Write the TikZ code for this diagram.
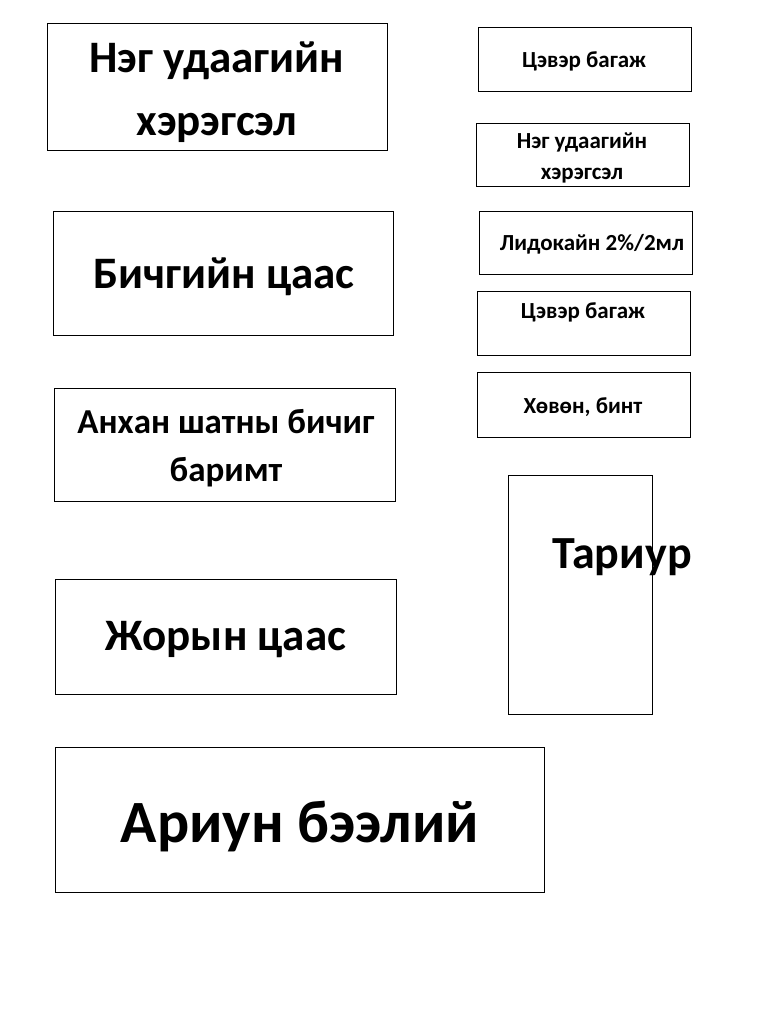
\documentclass[tikz,border=0pt]{standalone}
\usepackage{fontspec}
\setmainfont{Carlito}
\begin{document}
\begin{tikzpicture}[x=1pt,y=-1pt,
 box/.style={draw,line width=0.8pt,inner sep=0},
 lbl/.style={font=\bfseries,align=center,inner sep=0}]
\useasboundingbox (0,0) rectangle (768,1024);
\newcommand{\bx}[5]{\node[box,minimum width=#3-#1,minimum height=#4-#2] (#5) at ({(#1+#3)/2},{(#2+#4)/2}) {};}
\bx{47}{23}{387}{150}{b1}
\bx{53}{211}{393}{335}{b2}
\bx{54}{388}{395}{501}{b3}
\bx{55}{579}{396}{694}{b4}
\bx{55}{747}{544}{892}{b5}
\bx{478}{27}{691}{91}{b6}
\bx{476}{123}{689}{186}{b7}
\bx{479}{211}{692}{274}{b8}
\bx{477}{291}{690}{355}{b9}
\bx{477}{372}{690}{437}{b10}
\bx{508}{475}{652}{714}{b11}
\node[lbl,font=\bfseries\fontsize{45}{63}\selectfont] (t1) at (217,92) {Нэг удаагийн\\хэрэгсэл};
\node[lbl,font=\bfseries\fontsize{45}{50}\selectfont] (t2) at (224,277) {Бичгийн цаас};
\node[lbl,font=\bfseries\fontsize{35}{48}\selectfont] (t3) at (226,448) {Анхан шатны бичиг\\баримт};
\node[lbl,font=\bfseries\fontsize{45}{50}\selectfont] (t4) at (226,640) {Жорын цаас};
\node[lbl,font=\bfseries\fontsize{60}{66}\selectfont] (t5) at (300,827) {Ариун бээлий};
\node[lbl,font=\bfseries\fontsize{23}{26}\selectfont] (t6) at (584,61) {Цэвэр багаж};
\node[lbl,font=\bfseries\fontsize{23}{31}\selectfont] (t7) at (582,158) {Нэг удаагийн\\хэрэгсэл};
\node[lbl,font=\bfseries\fontsize{23}{26}\selectfont] (t8) at (592,244) {Лидокайн 2\%/2мл};
\node[lbl,font=\bfseries\fontsize{23}{26}\selectfont] (t9) at (583,312) {Цэвэр багаж};
\node[lbl,font=\bfseries\fontsize{23}{26}\selectfont] (t10) at (583,407) {Хөвөн, бинт};
\node[lbl,font=\bfseries\fontsize{46}{50}\selectfont] (t11) at (622,557) {Тариур};
\end{tikzpicture}
\end{document}
